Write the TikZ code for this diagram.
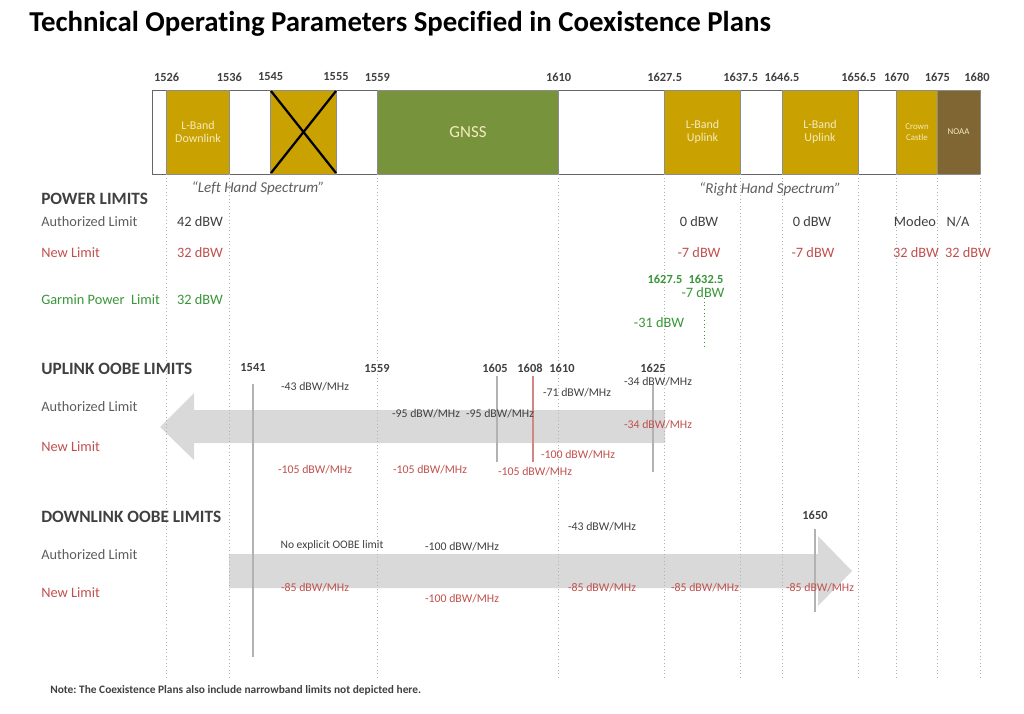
\documentclass[tikz,border=0pt]{standalone}
\usepackage{fontspec}
\setmainfont{Carlito}[Ligatures={TeX,NoCommon}]
\frenchspacing

\definecolor{bandgold}{RGB}{201,161,0}
\definecolor{gnssgreen}{RGB}{119,147,60}
\definecolor{noaabrown}{RGB}{128,102,51}
\definecolor{newred}{RGB}{192,80,77}
\definecolor{garmin}{RGB}{56,150,56}
\definecolor{txtgray}{RGB}{64,64,64}
\definecolor{arrowgray}{RGB}{217,217,217}
\definecolor{cream}{RGB}{245,235,190}

\tikzset{
  head/.style={font=\fontsize{12.3}{14}\selectfont\bfseries, text=txtgray, anchor=west, inner sep=0pt},
  rowlbl/.style={font=\fontsize{10.2}{12}\selectfont, text=txtgray!85, anchor=west, inner sep=0pt},
  val/.style={font=\fontsize{10.2}{12}\selectfont, text=txtgray, inner sep=0pt},
  oobe/.style={font=\fontsize{8.4}{10}\selectfont, text=txtgray, inner sep=0pt},
  freq/.style={font=\fontsize{8.8}{10}\selectfont\bfseries, text=txtgray, inner sep=0pt},
  bandtxt/.style={font=\fontsize{8.5}{9.5}\selectfont, text=cream, align=center, inner sep=0pt},
  gridline/.style={gray!60, dotted, line width=0.5pt},
  cutline/.style={gray!60, line width=0.8pt},
}

\begin{document}
\begin{tikzpicture}[x=0.025cm, y=-0.025cm]
  \useasboundingbox (0,0) rectangle (1024,713);

  % title
  \node[anchor=west, inner sep=0pt, font=\fontsize{20.5}{24}\selectfont\bfseries] (title)
    at (29,24) {Technical Operating Parameters Specified in Coexistence Plans};

  % OOBE arrows
  \fill[arrowgray] (160,427) -- (194,393) -- (194,410) -- (665,410)
    -- (665,443) -- (194,443) -- (194,460) -- cycle;
  \fill[arrowgray] (229,554) -- (818,554) -- (818,536) -- (852,571)
    -- (818,606) -- (818,588) -- (229,588) -- cycle;

  % spectrum bands
  \draw[black!60, fill=white] (152,90) rectangle (980,174);
  \foreach \l/\r/\c in {166.7/229.3/bandgold, 270.7/336/bandgold,
      377.3/558.7/gnssgreen, 664.7/740.7/bandgold, 782/858.7/bandgold,
      896.7/937.3/bandgold, 937.3/980/noaabrown}
    \draw[black!45, fill=\c] (\l,90) rectangle (\r,174);
  \draw[black, line width=1.6pt] (271,91) -- (336,173) (336,91) -- (271,173);

  \node[bandtxt] (dl) at (198,132) {L-Band\\Downlink};
  \node[bandtxt, font=\fontsize{12}{14}\selectfont] (gnss) at (468,132) {GNSS};
  \node[bandtxt] (ul1) at (702.5,132) {L-Band\\Uplink};
  \node[bandtxt] (ul2) at (820,132) {L-Band\\Uplink};
  \node[bandtxt, font=\fontsize{6.3}{7.5}\selectfont] (cc) at (917,132) {Crown\\Castle};
  \node[bandtxt, font=\fontsize{6.3}{7.5}\selectfont] (noaa) at (958.5,132) {NOAA};

  \foreach \x/\f [count=\i] in {166.7/1526, 229.3/1536, 270.7/1545, 336/1555,
      377.3/1559, 558.7/1610, 664.7/1627.5, 740.7/1637.5, 782/1646.5,
      858.7/1656.5, 896.7/1670, 937.3/1675, 977/1680}
    \node[freq] (f\i) at (\x,77) {\f};

  % band edges down the page
  \foreach \x in {166.7, 229.3, 377.3, 558.7, 664.7, 740.7, 782, 858.7,
      896.7, 937.3, 980}
    \draw[gridline] (\x,174) -- (\x,677);

  \node[font=\fontsize{10.7}{12}\selectfont\itshape, text=txtgray!85] (lhs)
    at (258,188) {``Left Hand Spectrum''};
  \node[font=\fontsize{10.7}{12}\selectfont\itshape, text=txtgray!85] (rhs)
    at (770,189) {``Right Hand Spectrum''};

  % power limits
  \node[head] (pwr) at (41,199) {POWER LIMITS};
  \node[rowlbl] (pauth) at (41,222) {Authorized Limit};
  \node[rowlbl, text=newred] (pnew) at (41,253) {New Limit};
  \node[rowlbl, text=garmin] (pgar) at (41,300) {Garmin Power\ \ Limit};

  \node[val] at (200,222) {42 dBW};
  \node[val] at (699,222) {0 dBW};
  \node[val] at (812,222) {0 dBW};
  \node[val] at (915,222) {Modeo};
  \node[val] at (958,222) {N/A};
  \foreach \x/\v in {200/32, 699/-7, 813/-7, 916/32, 968/32}
    \node[val, text=newred] at (\x,253) {\v{} dBW};
  \node[val, text=garmin] at (200,300) {32 dBW};

  \node[freq, text=garmin] (g1) at (665,279) {1627.5};
  \node[freq, text=garmin] (g2) at (706,279) {1632.5};
  \node[val, text=garmin] (g7) at (703,293) {-7 dBW};
  \node[val, text=garmin] (g31) at (659,323) {-31 dBW};
  \draw[garmin, dotted, line width=0.6pt] (704.7,298) -- (704.7,349);

  % uplink OOBE
  \node[head] (up) at (41,369) {UPLINK OOBE LIMITS};
  \node[rowlbl] (uauth) at (41,407) {Authorized Limit};
  \node[rowlbl, text=newred] (unew) at (41,447) {New Limit};

  \foreach \x/\f in {253/1541, 377/1559, 495/1605, 530/1608, 562/1610, 653/1625}
    \node[freq] at (\x,368) {\f};
  \draw[cutline] (253,384) -- (253,657);
  \draw[cutline] (497,376) -- (497,462);
  \draw[newred!70, line width=0.8pt] (533,376) -- (533,462);
  \draw[cutline] (653,384) -- (653,472);

  \node[oobe] at (315,387) {-43 dBW/MHz};
  \node[oobe] at (426,414) {-95 dBW/MHz};
  \node[oobe] at (500,414) {-95 dBW/MHz};
  \node[oobe] at (577,393) {-71 dBW/MHz};
  \node[oobe] at (658,382) {-34 dBW/MHz};
  \node[oobe, text=newred] at (658,425) {-34 dBW/MHz};
  \node[oobe, text=newred] at (315,470) {-105 dBW/MHz};
  \node[oobe, text=newred] at (430,470) {-105 dBW/MHz};
  \node[oobe, text=newred] at (535,472) {-105 dBW/MHz};
  \node[oobe, text=newred] at (578,455) {-100 dBW/MHz};

  % downlink OOBE
  \node[head] (down) at (41,517) {DOWNLINK OOBE LIMITS};
  \node[rowlbl] (dauth) at (41,555) {Authorized Limit};
  \node[rowlbl, text=newred] (dnew) at (41,593) {New Limit};

  \node[freq] (f1650) at (815,515) {1650};
  \draw[cutline] (815,529) -- (815,612);

  \node[oobe, font=\fontsize{8.2}{9}\selectfont] at (332,545) {No explicit OOBE limit};
  \node[oobe] at (462,547) {-100 dBW/MHz};
  \node[oobe] at (602,527) {-43 dBW/MHz};
  \foreach \x in {315, 602, 705, 820}
    \node[oobe, text=newred] at (\x,588) {-85 dBW/MHz};
  \node[oobe, text=newred] at (462,599) {-100 dBW/MHz};

  % footnote
  \node[anchor=west, inner sep=0pt, font=\fontsize{8.1}{9}\selectfont\bfseries, text=txtgray] (note)
    at (50,690) {Note: The Coexistence Plans also include narrowband limits not depicted here.};
\end{tikzpicture}
\end{document}
